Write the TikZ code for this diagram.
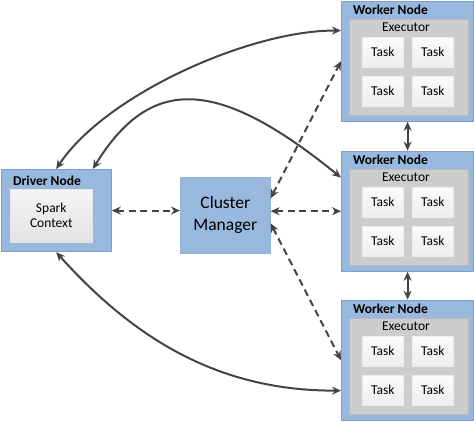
\documentclass[tikz,border=0pt]{standalone}
\usepackage{fontspec}
\setmainfont{Carlito}
\usetikzlibrary{arrows.meta,calc}
\definecolor{bluefill}{HTML}{98B8DD}
\definecolor{blueline}{HTML}{7BA0CE}
\definecolor{execfill}{HTML}{CDCDCD}
\definecolor{execline}{HTML}{BBBBBB}
\definecolor{arrowcol}{HTML}{444444}
\tikzset{
  outerbox/.style={draw=blueline, fill=bluefill, line width=1.2pt, anchor=north west, inner sep=0pt},
  execbox/.style={draw=execline, fill=execfill, line width=0.8pt, anchor=north west, inner sep=0pt},
  taskbox/.style={draw=white!85!gray, top color=white!97!gray, bottom color=white!86!gray, line width=0.6pt, anchor=north west, inner sep=0pt, minimum width=41pt, minimum height=30pt, font=\fontsize{13.5}{15}\selectfont},
  titletext/.style={anchor=west, font=\bfseries\fontsize{13.5}{15}\selectfont, inner sep=0pt},
  exectext/.style={anchor=center, font=\fontsize{13.5}{15}\selectfont, inner sep=0pt},
  solidarrow/.style={draw=arrowcol, line width=2pt, {Stealth[length=9pt,width=8pt]}-{Stealth[length=9pt,width=8pt]}},
  dasharrow/.style={draw=arrowcol, line width=2pt, dash pattern=on 7pt off 4.5pt, {Stealth[length=9pt,width=8pt]}-{Stealth[length=9pt,width=8pt]}}
}
\begin{document}
\begin{tikzpicture}[x=1pt,y=-1pt]
\useasboundingbox (0,0) rectangle (474,422);
% Workers
\foreach \i/\oy in {1/0,2/150,3/299}{
  \node[outerbox, minimum width=132pt, minimum height=120pt] (w\i) at (341,{\oy+0.6}) {};
  \node[titletext] (w\i title) at (353,{\oy+10}) {Worker Node};
  \node[execbox, minimum width=119pt, minimum height=96pt] (e\i) at (349,{\oy+19}) {};
  \node[exectext] (e\i label) at (406,{\oy+27.5}) {Executor};
  \node[taskbox] (t\i a) at (362,{\oy+37}) {Task};
  \node[taskbox] (t\i b) at (412,{\oy+37}) {Task};
  \node[taskbox] (t\i c) at (362,{\oy+76}) {Task};
  \node[taskbox] (t\i d) at (412,{\oy+76}) {Task};
}
% Driver
\node[outerbox, minimum width=110pt, minimum height=82pt] (driver) at (0.6,169) {};
\node[titletext] (drivertitle) at (13,181) {Driver Node};
\node[draw=white!80!gray, top color=white!92!gray, bottom color=white!78!gray, line width=0.6pt, anchor=north west, inner sep=0pt, minimum width=82pt, minimum height=53pt, align=center, font=\fontsize{13.5}{15}\selectfont] (spark) at (10,189) {Spark\\[0pt]Context};
% Cluster manager
\node[draw=bluefill!90!gray, fill=bluefill, line width=0.6pt, anchor=north west, inner sep=0pt, minimum width=90pt, minimum height=76pt, align=center, font=\fontsize{17.5}{22}\selectfont] (cm) at (180,177) {Cluster\\Manager};
% coordinates
\coordinate (cmup) at ([yshift=17pt]cm.east);
\coordinate (cmdown) at ([yshift=-8pt]cm.east);
\coordinate (w1a) at ([yshift=-30pt]w1.north west);
\coordinate (w2a) at ([yshift=-27pt]w2.north west);
\coordinate (w3a) at ([yshift=-91pt]w3.north west);
\coordinate (d2) at ([xshift=-19pt]driver.north east);
% dashed connectors
\draw[dasharrow] (driver.east) -- (driver.east -| cm.west);
\draw[dasharrow] (cm.east |- w2.west) -- (w2.west);
\draw[dasharrow] (cmup) -- (w1.west);
\draw[dasharrow] (cmdown) -- (w3.west);
% solid curves
\draw[solidarrow] (driver.north) .. controls (105,95) and (250,30) .. (w1a);
\draw[solidarrow] (d2) .. controls (150,76) and (216,76) .. (w2a);
\draw[solidarrow] (driver.south) .. controls (136,341) and (221,391) .. (w3a);
% vertical
\draw[solidarrow] (w1.south) -- (w2.north);
\draw[solidarrow] (w2.south) -- (w3.north);
\end{tikzpicture}
\end{document}
